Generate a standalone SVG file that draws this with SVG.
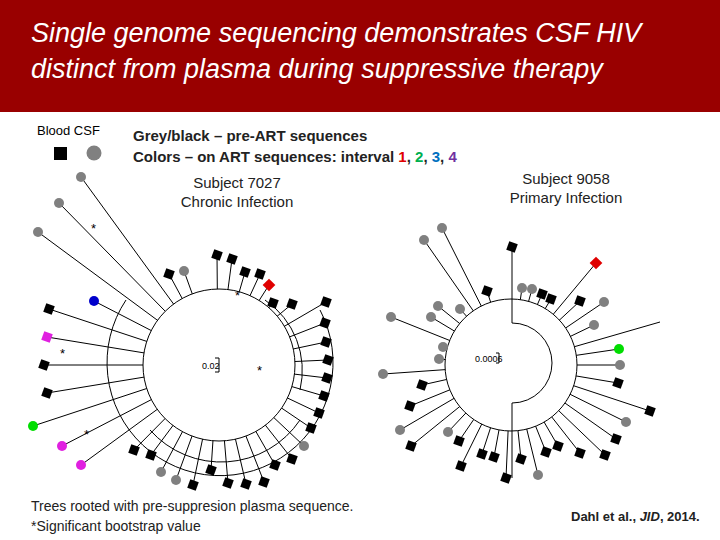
<svg xmlns="http://www.w3.org/2000/svg" xmlns:xlink="http://www.w3.org/1999/xlink" width="720" height="540" viewBox="0 0 720 540">
<style>
.t{font-family:"Liberation Sans",Arial,sans-serif}
.br{stroke:#000;stroke-width:1;fill:none}
.g{fill:#808080}
.k{fill:#000}
</style>
<defs>
<circle id="c" r="5"/>
<rect id="s" x="-4.5" y="-4.5" width="9" height="9" transform="rotate(20)"/>
</defs>
<rect width="720" height="540" fill="#fff"/>
<rect width="720" height="112" fill="#990000"/>
<text class="t" x="31" y="42" font-size="27" font-style="italic" fill="#fff">Single genome sequencing demonstrates CSF HIV</text>
<text class="t" x="31" y="78" font-size="27" font-style="italic" fill="#fff">distinct from plasma during suppressive therapy</text>
<g id="legend">
<text class="t" x="37" y="135" font-size="13">Blood  CSF</text>
<rect x="54" y="147" width="13" height="13"/>
<circle cx="94" cy="153" r="7.5" class="g"/>
<text class="t" x="133" y="141" font-size="15" font-weight="bold" fill="#222">Grey/black – pre-ART sequences</text>
<text class="t" x="133" y="162" font-size="15" font-weight="bold" fill="#222">Colors – on ART sequences:  interval <tspan fill="#e00000">1</tspan>, <tspan fill="#00b050">2</tspan>, <tspan fill="#0070c0">3</tspan>, <tspan fill="#7030a0">4</tspan></text>
</g>
<g class="t" font-size="15" text-anchor="middle" fill="#222">
<text x="237" y="188">Subject 7027</text><text x="237" y="207">Chronic Infection</text>
<text x="566" y="184">Subject 9058</text><text x="566" y="203">Primary Infection</text>
</g>
<g id="tree7027">
<g class="br">
<path d="M218 365 L81 177 M218 365 L59 203 M218 365 L38 232 M218 365 L94 301 M218 365 L49 309 M218 365 L47 337 M218 365 L44 365 M218 365 L47 393 M218 365 L33 426 M218 365 L62 446 M218 365 L81 465 M218 365 L169 274 M218 365 L184 271 M218 365 L217 255 M218 365 L232 259 M218 365 L245 272 M218 365 L260 274 M218 365 L269 285 M218 365 L273 303 M218 365 L292 304 M218 365 L326 302 M218 365 L325 323 M218 365 L326 342 M218 365 L328 360 M218 365 L327 378 M218 365 L324 396 M218 365 L319 413 M218 365 L311 428 M218 365 L134 450 M218 365 L151 455 M218 365 L161 472 M218 365 L176 480 M218 365 L193 485 M218 365 L211 470 M218 365 L228 483 M218 365 L246 484 M218 365 L264 482 M218 365 L275 465 M218 365 L292 459 M218 365 L304 446"/>
</g>
<circle cx="219" cy="365" r="76" fill="#fff" stroke="#000"/>
<path class="br" d="M126 300 A113 113 0 1 0 320 310 M150 430 A95 95 0 0 0 300 420 M265 300 A85 85 0 0 1 300 390"/>
<text class="t" x="202" y="369" font-size="9">0.02</text>
<path class="br" d="M215 358 h4 v14 h-4"/>
<g class="g"><use href="#c" x="81" y="177"/><use href="#c" x="59" y="203"/><use href="#c" x="38" y="232"/><use href="#c" x="184" y="271"/><use href="#c" x="161" y="472"/><use href="#c" x="176" y="480"/><use href="#c" x="304" y="446"/></g>
<g class="k"><use href="#s" x="49" y="309"/><use href="#s" x="44" y="365"/><use href="#s" x="47" y="393"/><use href="#s" x="169" y="274"/><use href="#s" x="217" y="255"/><use href="#s" x="232" y="259"/><use href="#s" x="245" y="272"/><use href="#s" x="260" y="274"/><use href="#s" x="273" y="303"/><use href="#s" x="292" y="304"/><use href="#s" x="326" y="302"/><use href="#s" x="325" y="323"/><use href="#s" x="326" y="342"/><use href="#s" x="328" y="360"/><use href="#s" x="327" y="378"/><use href="#s" x="324" y="396"/><use href="#s" x="319" y="413"/><use href="#s" x="311" y="428"/><use href="#s" x="134" y="450"/><use href="#s" x="151" y="455"/><use href="#s" x="193" y="485"/><use href="#s" x="211" y="470"/><use href="#s" x="228" y="483"/><use href="#s" x="246" y="484"/><use href="#s" x="264" y="482"/><use href="#s" x="275" y="465"/><use href="#s" x="292" y="459"/></g>
<use href="#c" x="94" y="301" fill="#0000cc"/>
<use href="#s" x="47" y="337" fill="#e020e0"/>
<use href="#c" x="33" y="426" fill="#00dd00"/>
<use href="#c" x="62" y="446" fill="#e020e0"/>
<use href="#c" x="81" y="465" fill="#e020e0"/>
<use href="#s" x="269" y="285" fill="#e00000" transform="rotate(25 269 285)"/>
<g class="t" font-size="13"><text x="91" y="233">*</text><text x="60" y="358">*</text><text x="84" y="439">*</text><text x="235" y="300">*</text><text x="257" y="375">*</text></g>
</g>
<g id="tree9058">
<path class="br" d="M511 365 L442 228 M511 365 L424 240 M511 365 L487 291 M511 365 L438 306 M511 365 L460 309 M511 365 L391 317 M511 365 L431 317 M511 365 L443 347 M511 365 L439 359 M511 365 L383 374 M511 365 L422 385 M511 365 L410 406 M511 365 L400 430 M511 365 L411 446 M511 365 L448 432 M511 365 L459 441 M511 365 L461 466 M511 365 L482 454 M511 365 L494 457 M511 365 L506 478 M511 365 L521 459 M511 365 L538 475 M511 365 L546 452 M511 365 L558 446 M511 365 L580 453 M511 365 L605 455 M511 365 L616 439 M511 365 L626 422 M511 365 L650 411 M511 365 L618 383 M511 365 L620 365 M511 365 L619 349 M511 365 L594 325 M511 365 L604 302 M511 365 L580 301 M511 365 L522 288 M511 365 L532 289 M511 365 L542 294 M511 365 L551 299 M511 365 L596 263 M511 365 L660 322"/>
<circle cx="511" cy="365" r="66" fill="#fff" stroke="#000"/>
<path class="br" d="M512 247 V323 A40 40 0 0 1 512 403 V478"/>
<text class="t" x="475" y="362" font-size="9">0.0006</text>
<path class="br" d="M496 353 h3 v10 h-3"/>
<g class="g"><use href="#c" x="442" y="228"/><use href="#c" x="424" y="240"/><use href="#c" x="438" y="306"/><use href="#c" x="460" y="309"/><use href="#c" x="391" y="317"/><use href="#c" x="431" y="317"/><use href="#c" x="443" y="347"/><use href="#c" x="439" y="359"/><use href="#c" x="383" y="374"/><use href="#c" x="400" y="430"/><use href="#c" x="448" y="432"/><use href="#c" x="538" y="475"/><use href="#c" x="626" y="422"/><use href="#c" x="620" y="365"/><use href="#c" x="594" y="325"/><use href="#c" x="604" y="302"/><use href="#c" x="522" y="288"/><use href="#c" x="532" y="289"/></g>
<g class="k"><use href="#s" x="512" y="247"/><use href="#s" x="487" y="291"/><use href="#s" x="422" y="385"/><use href="#s" x="410" y="406"/><use href="#s" x="411" y="446"/><use href="#s" x="459" y="441"/><use href="#s" x="461" y="466"/><use href="#s" x="482" y="454"/><use href="#s" x="494" y="457"/><use href="#s" x="506" y="478"/><use href="#s" x="521" y="459"/><use href="#s" x="546" y="452"/><use href="#s" x="558" y="446"/><use href="#s" x="580" y="453"/><use href="#s" x="605" y="455"/><use href="#s" x="616" y="439"/><use href="#s" x="650" y="411"/><use href="#s" x="618" y="383"/><use href="#s" x="580" y="301"/><use href="#s" x="542" y="294"/><use href="#s" x="551" y="299"/></g>
<use href="#s" x="596" y="263" fill="#e00000" transform="rotate(25 596 263)"/>
<use href="#c" x="619" y="349" fill="#00dd00"/>
</g>
<g class="t" font-size="14" fill="#222">
<text x="31" y="511">Trees rooted with pre-suppresion plasma sequence.</text>
<text x="31" y="531">*Significant bootstrap value</text>
<text x="571" y="521" font-size="13" font-weight="bold">Dahl et al., <tspan font-style="italic">JID</tspan>, 2014.</text>
</g>
</svg>
